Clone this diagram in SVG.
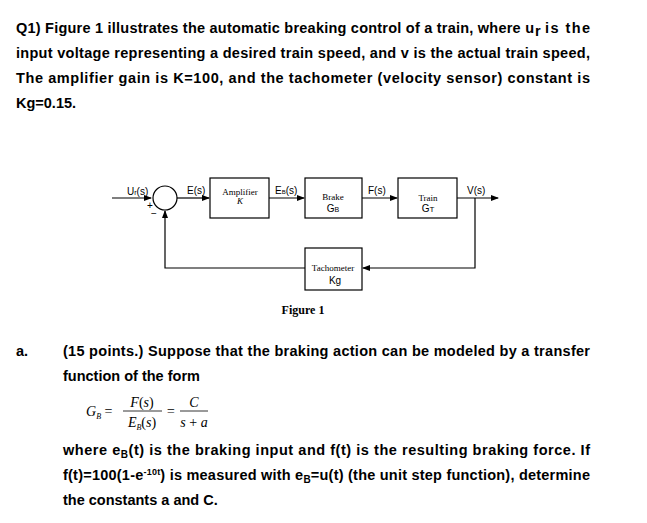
<svg xmlns="http://www.w3.org/2000/svg" width="647" height="523" viewBox="0 0 647 523">
<style>
.t{font-family:"Liberation Sans",Arial,sans-serif;font-weight:bold;font-size:14.5px;fill:#000}
.s{font-family:"Liberation Serif",serif;font-size:9px;fill:#000}
.h{font-family:"Liberation Sans",Arial,sans-serif;font-size:10px;fill:#000}
.m{font-family:"Liberation Serif",serif;font-style:italic;font-size:14px;fill:#000}
.b{fill:#fff;stroke:#000;stroke-width:1.2}
.l{fill:none;stroke:#000;stroke-width:1.2}
</style>
<defs><marker id="a" markerWidth="8" markerHeight="6" refX="7" refY="3" orient="auto" markerUnits="userSpaceOnUse"><path d="M0,0L8,3L0,6z"/></marker></defs>
<rect width="647" height="523" fill="#fff"/>
<text class="t" x="16" y="33" textLength="518" lengthAdjust="spacing">Q1) Figure 1 illustrates the automatic breaking control of a train, where u</text><text class="t" x="535" y="36" font-size="10">r</text><text class="t" x="545" y="33" textLength="45" lengthAdjust="spacing">is the</text>
<text class="t" x="16" y="58" textLength="574" lengthAdjust="spacing">input voltage representing a desired train speed, and v is the actual train speed,</text>
<text class="t" x="16" y="83" textLength="574" lengthAdjust="spacing">The amplifier gain is K=100, and the tachometer (velocity sensor) constant is</text>
<text class="t" x="16" y="108">Kg=0.15.</text>
<g id="connectors">
<path class="l" d="M112,198H151" marker-end="url(#a)"/>
<path class="l" d="M177,198H209" marker-end="url(#a)"/>
<path class="l" d="M269,198H304" marker-end="url(#a)"/>
<path class="l" d="M362,198H397" marker-end="url(#a)"/>
<path class="l" d="M457,198H498" marker-end="url(#a)"/>
<path class="l" d="M475,198V268H363" marker-end="url(#a)"/>
<path class="l" d="M305,268H165V211" marker-end="url(#a)"/>
</g>
<g id="sum"><circle class="b" cx="165" cy="198" r="12"/><text class="h" x="147" y="209" font-size="8">+</text><text class="h" x="151" y="217" font-size="8">−</text></g>
<g id="amp"><rect class="b" x="210" y="178" width="59" height="40"/><text class="s" x="240" y="195" text-anchor="middle">Amplifier</text><text class="s" x="240" y="204" text-anchor="middle" font-style="italic">K</text></g>
<g id="brake"><rect class="b" x="305" y="178" width="57" height="40"/><text class="s" x="333" y="200" text-anchor="middle">Brake</text><text class="h" x="333" y="212" text-anchor="middle">G<tspan font-size="7">B</tspan></text></g>
<g id="train"><rect class="b" x="398" y="178" width="59" height="40"/><text class="s" x="428" y="201" text-anchor="middle">Train</text><text class="h" x="428" y="212" text-anchor="middle">G<tspan font-size="8">T</tspan></text></g>
<g id="tach"><rect class="b" x="305" y="248" width="57" height="42"/><text class="s" x="333" y="271" text-anchor="middle">Tachometer</text><text class="h" x="335" y="284" text-anchor="middle" font-size="11">Kg</text></g>
<g id="labels" class="h" font-size="9">
<text x="127" y="195">U<tspan font-size="7">r</tspan>(s)</text>
<text x="187" y="194">E(s)</text>
<text x="275" y="194">E<tspan font-size="6">B</tspan>(s)</text>
<text x="368" y="194">F(s)</text>
<text x="467" y="194">V(s)</text>
</g>
<text x="303" y="314" font-family="Liberation Serif,serif" font-weight="bold" font-size="12" text-anchor="middle">Figure 1</text>
<text class="t" x="16" y="356">a.</text>
<text class="t" x="63" y="356" textLength="527" lengthAdjust="spacing">(15 points.) Suppose that the braking action can be modeled by a transfer</text>
<text class="t" x="63" y="381">function of the form</text>
<text class="m" x="86" y="416">G<tspan font-size="8" dy="3">B</tspan><tspan dy="-3" font-style="normal"> =</tspan></text>
<text class="m" x="142" y="407" text-anchor="middle">F<tspan font-style="normal">(</tspan>s<tspan font-style="normal">)</tspan></text>
<line x1="123" y1="411" x2="162" y2="411" stroke="#000" stroke-width="0.8"/>
<text class="m" x="142" y="427" text-anchor="middle">E<tspan font-size="8" dy="3">B</tspan><tspan dy="-3" font-style="normal">(</tspan>s<tspan font-style="normal">)</tspan></text>
<text class="m" x="166" y="416" font-style="normal">=</text>
<text class="m" x="194" y="407" text-anchor="middle">C</text>
<line x1="180" y1="411" x2="208" y2="411" stroke="#000" stroke-width="0.8"/>
<text class="m" x="194" y="427" text-anchor="middle">s<tspan font-style="normal"> + </tspan>a</text>
<text class="t" x="63" y="455" textLength="527" lengthAdjust="spacing">where e<tspan font-size="10" dy="3">B</tspan><tspan dy="-3">(t) is the braking input and f(t) is the resulting braking force. If</tspan></text>
<text class="t" x="63" y="480" textLength="527" lengthAdjust="spacing">f(t)=100(1-e<tspan font-size="9" dy="-5">-10t</tspan><tspan dy="5">) is measured with e</tspan><tspan font-size="10" dy="3">B</tspan><tspan dy="-3">=u(t) (the unit step function), determine</tspan></text>
<text class="t" x="63" y="505">the constants a and C.</text>
</svg>
